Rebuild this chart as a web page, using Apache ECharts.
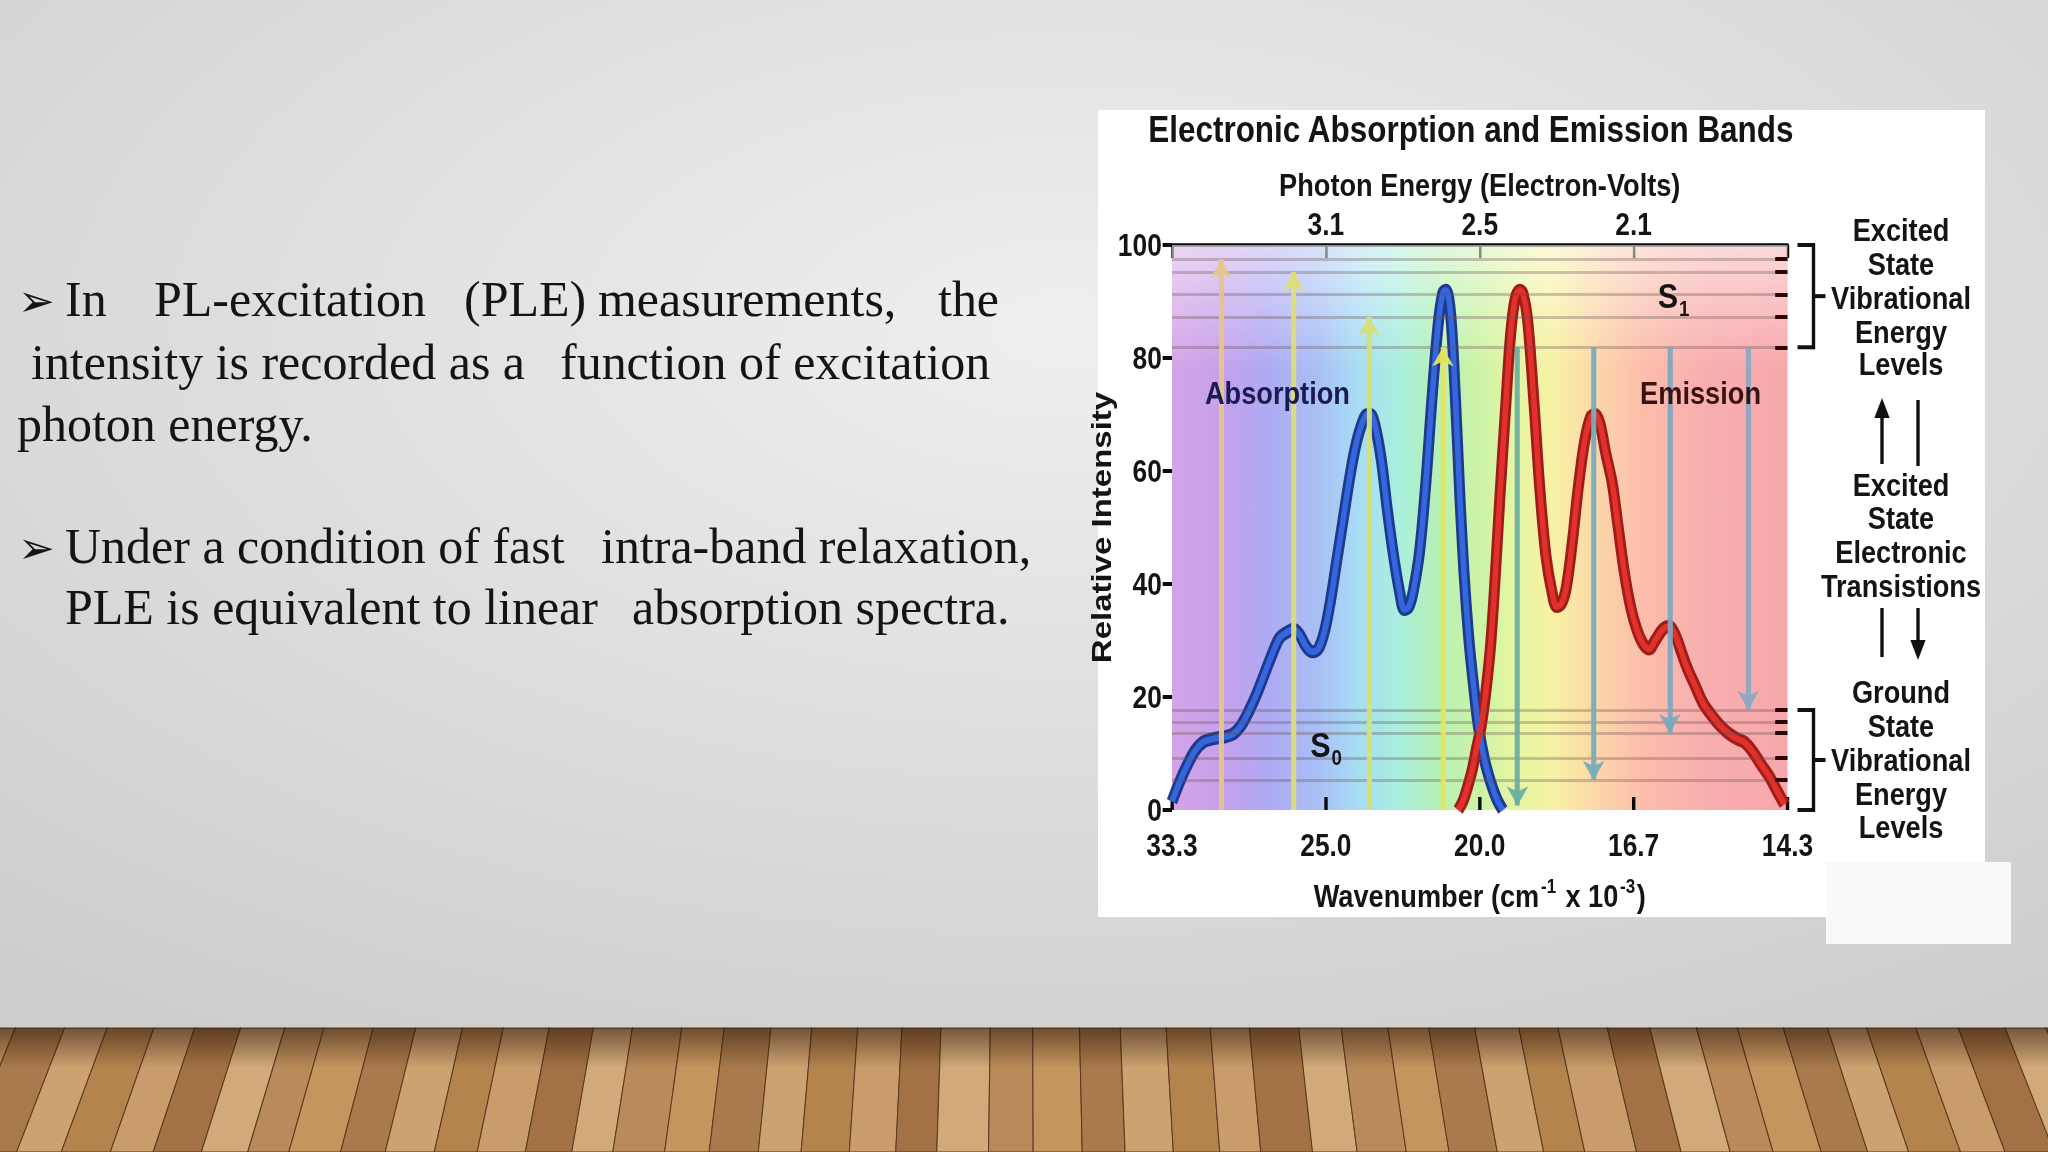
<!DOCTYPE html>
<html>
<head>
<meta charset="utf-8">
<script src="https://cdn.jsdelivr.net/npm/echarts@6/dist/echarts.min.js"></script>
<style>
html, body { margin: 0; padding: 0; width: 2048px; height: 1152px; overflow: hidden; background: #dcdcda; }
/* the pasted chart picture is squeezed sideways, so the page is drawn wider and squeezed back */
#slide { width: 2410px; height: 1152px; transform: scaleX(0.85); transform-origin: 0 0; }
</style>
</head>
<body>
<div id="slide"></div>
<script>
// x axis is linear in wavelength (nm); labels show wavenumber and photon energy
const wavenumberLabels = ['33.3', '25.0', '20.0', '16.7', '14.3'];
const energyLabels = ['', '3.1', '2.5', '2.1', ''];

const absorptionNm = [300, 305, 310, 315, 320, 325, 330, 335, 340, 345, 350, 355, 360, 365, 370, 375,
    379, 383, 387, 391, 395, 399, 403, 407, 411, 415, 419, 423, 427, 429, 432, 436, 440, 444, 448,
    451, 454, 457, 461, 465, 469, 473, 476, 478, 481, 484, 487, 490, 493, 496, 499, 503, 507, 511, 515];
const absorptionVal = [1.5, 5, 8, 10.5, 12, 12.5, 12.8, 13, 13.5, 15, 17.5, 20.5, 24, 27.5, 30.5, 31.5,
    32, 31, 29, 28, 28.5, 31.5, 37, 44, 51, 58, 64, 68, 70, 70, 68, 62, 53, 45, 38.5,
    35.5, 36, 39, 46, 58, 73, 86, 91.5, 92, 88, 74, 56, 41, 30, 22, 15, 9, 5, 2, 0];

const emissionNm = [486, 489, 492, 495, 498, 501, 504, 507, 510, 513, 517, 520, 523, 526, 528, 531, 535,
    539, 543, 547, 550, 553, 556, 560, 564, 568, 572, 575, 578, 582, 586, 590, 594, 598, 602, 606, 610,
    614, 619, 623, 627, 631, 635, 640, 645, 650, 656, 662, 668, 672, 677, 683, 688, 693, 698];
const emissionVal = [0, 1.5, 4, 7, 11, 15, 21, 29, 41, 55, 72, 84, 90.5, 92, 91.5, 87, 73,
    57, 45, 38.5, 36, 36.5, 39, 47, 57, 65, 69.5, 70, 68.5, 63, 58, 50, 42, 36, 32, 29.5, 28.5,
    30, 32, 32.5, 31, 28, 25, 22, 19, 17, 15, 13.5, 12.5, 12, 10.5, 8, 6, 3.5, 1];

const excitedLevels = [97.5, 95.2, 91.2, 87.3, 81.9];
const groundLevels = [17.7, 15.6, 13.6, 9.2, 5.3];

const absorptionArrowNm = [332, 379, 428, 476];
const absorptionArrowTip = [97.5, 95.2, 87.3, 81.9];
const emissionArrowNm = [524.5, 574, 623.5, 674.5];
const emissionArrowTip = [0.8, 5.3, 13.6, 17.7];

const K = 0.85; // horizontal squeeze applied by the css transform
const FONT = "'Liberation Sans', Arial, sans-serif";
const INK = '#141414';

function X(px) { return px / K; } // page pixel -> drawing pixel
function pairs(xs, ys) {
    return xs.map(function (x, i) { return [x, ys[i]]; });
}

let spectrum = new echarts.graphic.LinearGradient(0, 0, 1, 0, [
    { offset: 0, color: '#d5a3e6' }, { offset: 0.08, color: '#c6a1ea' },
    { offset: 0.16, color: '#aeaaf4' }, { offset: 0.24, color: '#a9c0f5' },
    { offset: 0.3, color: '#a7dcf4' }, { offset: 0.37, color: '#a9efdc' },
    { offset: 0.43, color: '#b6f0b6' }, { offset: 0.5, color: '#cdf3a6' },
    { offset: 0.56, color: '#e6f5a2' }, { offset: 0.62, color: '#f8f1a4' },
    { offset: 0.69, color: '#fcd6a9' }, { offset: 0.77, color: '#fbbcab' },
    { offset: 0.87, color: '#f8aeae' }, { offset: 1, color: '#f7a7ab' }
]);
let haze = new echarts.graphic.LinearGradient(0, 0, 0, 1, [
    { offset: 0, color: 'rgba(255,255,255,0.55)' }, { offset: 1, color: 'rgba(255,255,255,0)' }
]);

let boldText = { fontFamily: FONT, fontWeight: 'bold', fontSize: 31, color: INK };
let axisShadow = { shadowColor: 'rgba(0,0,0,0.45)', shadowBlur: 5, shadowOffsetY: 3, shadowOffsetX: 2 };

let absorptionArrows = absorptionArrowNm.map(function (x, i) {
    let colors = ['#e3c68c', '#dede78', '#d6df74', '#e4e45c'];
    return [{ coord: [x, 0], lineStyle: { color: colors[i] } }, { coord: [x, absorptionArrowTip[i]] }];
});
let emissionArrows = emissionArrowNm.map(function (x, i) {
    let colors = ['#6cb0a2', '#78adba', '#80a6bf', '#8ea8c4'];
    return [{ coord: [x, excitedLevels[4]], lineStyle: { color: colors[i] } }, { coord: [x, emissionArrowTip[i]] }];
});
let rightTicks = excitedLevels.concat(groundLevels).map(function (v) {
    return [{ coord: [692, v] }, { coord: [700, v] }];
});

let option = {
    animation: false,
    title: {
        text: 'Electronic Absorption and Emission Bands',
        left: X(1144),
        top: 106,
        textStyle: { fontFamily: FONT, fontWeight: 'bold', fontSize: 37, color: INK }
    },
    grid: {
        left: X(1172),
        right: X(261),
        top: 245,
        bottom: 342,
        show: true,
        borderWidth: 0,
        backgroundColor: spectrum
    },
    xAxis: [
        {
            type: 'value',
            position: 'bottom',
            min: 300,
            max: 700,
            interval: 100,
            name: '{a|Wavenumber (cm}{s|-1}{a| x 10}{s|-3}{a|)}',
            nameLocation: 'middle',
            nameGap: 66,
            nameTextStyle: {
                rich: {
                    a: Object.assign({}, boldText, { fontSize: 32, verticalAlign: 'bottom' }),
                    s: Object.assign({}, boldText, { fontSize: 20, padding: [0, 2, 16, 2], verticalAlign: 'bottom' })
                }
            },
            axisLine: { show: true, onZero: false, lineStyle: Object.assign({ color: '#0a0a0a', width: 6 }, axisShadow) },
            axisTick: { show: true, inside: true, length: 13, lineStyle: { color: '#0a0a0a', width: 4 } },
            axisLabel: Object.assign({
                margin: 20,
                formatter: function (v) { return wavenumberLabels[Math.round((v - 300) / 100)]; }
            }, boldText),
            splitLine: { show: false }
        },
        {
            type: 'value',
            position: 'top',
            min: 300,
            max: 700,
            interval: 100,
            name: 'Photon Energy (Electron-Volts)',
            nameLocation: 'middle',
            nameGap: 44,
            nameTextStyle: Object.assign({}, boldText, { fontSize: 32 }),
            axisLine: { show: true, onZero: false, lineStyle: { color: '#0a0a0a', width: 3.5 } },
            axisTick: { show: true, inside: true, length: 13, lineStyle: { color: '#0a0a0a', width: 3 } },
            axisLabel: Object.assign({
                margin: 5,
                formatter: function (v) { return energyLabels[Math.round((v - 300) / 100)]; }
            }, boldText),
            splitLine: { show: false }
        }
    ],
    yAxis: [
        {
            type: 'value',
            min: 0,
            max: 100,
            interval: 20,
            name: 'Relative Intensity',
            nameLocation: 'middle',
            nameGap: 37,
            nameRotate: 90,
            nameTextStyle: Object.assign({}, boldText, { fontSize: 33 }),
            axisLine: { show: true, onZero: false, lineStyle: Object.assign({ color: '#0a0a0a', width: 6 }, axisShadow) },
            axisTick: { show: true, inside: false, length: 11, lineStyle: { color: '#0a0a0a', width: 4 } },
            axisLabel: Object.assign({ margin: 12 }, boldText),
            splitLine: { show: false }
        },
        {
            type: 'value',
            position: 'right',
            min: 0,
            max: 100,
            axisLine: { show: true, onZero: false, lineStyle: Object.assign({ color: '#0a0a0a', width: 4 }, axisShadow) },
            axisTick: { show: false },
            axisLabel: { show: false },
            splitLine: { show: false }
        }
    ],
    series: [
        {
            name: 'levels',
            type: 'line',
            data: [],
            z: 1,
            silent: true,
            markArea: {
                silent: true,
                itemStyle: { color: haze },
                data: [[{ coord: [300, 100] }, { coord: [700, 78] }]]
            },
            markLine: {
                silent: true,
                symbol: 'none',
                label: { show: false },
                lineStyle: { color: 'rgba(105,80,80,0.32)', width: 3, type: 'solid' },
                data: excitedLevels.concat(groundLevels).map(function (v) { return { yAxis: v }; })
            }
        },
        {
            name: 'transitions',
            type: 'line',
            data: [],
            z: 2,
            silent: true,
            markLine: {
                silent: true,
                symbol: ['none', 'arrow'],
                symbolSize: 19,
                label: { show: false },
                lineStyle: { width: 6, type: 'solid', opacity: 0.95 },
                data: absorptionArrows.concat(emissionArrows)
            }
        },
        {
            name: 'absorption outline',
            type: 'line',
            data: pairs(absorptionNm, absorptionVal),
            smooth: 0.35,
            symbol: 'none',
            z: 3,
            silent: true,
            lineStyle: { color: '#1f3a8c', width: 13 }
        },
        {
            name: 'absorption',
            type: 'line',
            data: pairs(absorptionNm, absorptionVal),
            smooth: 0.35,
            symbol: 'none',
            z: 4,
            silent: true,
            lineStyle: { color: '#3467de', width: 6.5 }
        },
        {
            name: 'emission outline',
            type: 'line',
            data: pairs(emissionNm, emissionVal),
            smooth: 0.35,
            symbol: 'none',
            z: 3,
            silent: true,
            lineStyle: { color: '#9e1d1a', width: 13 }
        },
        {
            name: 'emission',
            type: 'line',
            data: pairs(emissionNm, emissionVal),
            smooth: 0.35,
            symbol: 'none',
            z: 4,
            silent: true,
            lineStyle: { color: '#e2302a', width: 6.5 }
        },
        {
            name: 'notes',
            type: 'line',
            data: [],
            z: 6,
            silent: true,
            markLine: {
                silent: true,
                symbol: 'none',
                label: { show: false },
                lineStyle: { color: '#2a0808', width: 4, type: 'solid' },
                data: rightTicks
            },
            markPoint: {
                silent: true,
                symbol: 'circle',
                symbolSize: 1,
                itemStyle: { color: 'rgba(0,0,0,0)' },
                label: {
                    show: true,
                    position: 'inside',
                    fontFamily: FONT,
                    fontWeight: 'bold',
                    fontSize: 32,
                    rich: {
                        s: { fontFamily: FONT, fontWeight: 'bold', fontSize: 36, color: INK, verticalAlign: 'top', lineHeight: 38 },
                        sub: { fontFamily: FONT, fontWeight: 'bold', fontSize: 22, color: INK, verticalAlign: 'top', padding: [20, 0, 0, 1] }
                    }
                },
                data: [
                    { coord: [368.5, 73.8], label: { formatter: 'Absorption', color: '#1b1b50' } },
                    { coord: [643.5, 73.8], label: { formatter: 'Emission', color: '#3a1212' } },
                    { coord: [626, 90.6], label: { formatter: '{s|S}{sub|1}' } },
                    { coord: [400.2, 11], label: { formatter: '{s|S}{sub|0}' } }
                ]
            }
        }
    ]
};

let chart = echarts.init(document.getElementById('slide'), null, { renderer: 'svg' });
chart.setOption(option);

// ---- slide decoration: background, wooden floor, white picture panel, bullet text, side notes ----
let W = 2410;
let g = [];
g.push({
    type: 'rect', z: -100, silent: true,
    shape: { x: 0, y: 0, width: W, height: 1030 },
    style: {
        fill: new echarts.graphic.RadialGradient(0.52, 0.32, 0.8, [
            { offset: 0, color: '#efefed' }, { offset: 1, color: '#cdcdcb' }
        ])
    }
});

let floorTop = 1028, cx = W / 2;
let plankColors = ['#b98b5b', '#c99d6b', '#a97a4b', '#d2a979', '#b4844f', '#c4955f', '#a27244', '#cda271'];
let plankWidths = [52, 46, 58, 50, 55, 48, 54];
let tx = -80, k = 0;
while (tx < W + 80) {
    let w = plankWidths[k % plankWidths.length];
    let a = tx, b = tx + w;
    let pa = cx + (a - cx) * 1.05, pb = cx + (b - cx) * 1.05;
    g.push({
        type: 'polygon', z: -99, silent: true,
        shape: { points: [[a, floorTop], [b, floorTop], [pb, 1152], [pa, 1152]] },
        style: { fill: plankColors[(k * 5) % plankColors.length], stroke: '#5b3a1f', lineWidth: 1.2 }
    });
    tx = b;
    k++;
}
g.push({
    type: 'rect', z: -98, silent: true,
    shape: { x: 0, y: floorTop, width: W, height: 40 },
    style: {
        fill: new echarts.graphic.LinearGradient(0, 0, 0, 1, [
            { offset: 0, color: 'rgba(40,20,5,0.55)' }, { offset: 1, color: 'rgba(40,20,5,0)' }
        ])
    }
});
g.push({
    type: 'rect', z: -90, silent: true,
    shape: { x: X(1098), y: 110, width: X(887), height: 807 },
    style: { fill: '#ffffff' }
});
g.push({
    type: 'rect', z: -89, silent: true,
    shape: { x: X(1826), y: 862, width: X(185), height: 82 },
    style: { fill: '#f9f9f9' }
});

// text placed at page pixel x; serif slide text is un-squeezed with scaleX
function txt(px, y, s, font, align, unsqueeze, color) {
    g.push({
        type: 'text', z: 50, silent: true,
        x: X(px), y: y, scaleX: unsqueeze ? 1 / K : 1,
        style: { x: 0, y: 0, text: s, font: font, fill: color || INK, align: align || 'left', verticalAlign: 'middle' }
    });
}

let serif = "50px 'Liberation Serif', 'Times New Roman', serif";
let bullet = "bold 44px 'DejaVu Sans', sans-serif";
txt(18, 300, '\u27A2', bullet, 'left', true);
txt(65, 299, 'In', serif, 'left', true);
txt(154, 299, 'PL-excitation', serif, 'left', true);
txt(464, 299, '(PLE)', serif, 'left', true);
txt(598, 299, 'measurements,', serif, 'left', true);
txt(938, 299, 'the', serif, 'left', true);
txt(31, 362, 'intensity is recorded as a', serif, 'left', true);
txt(560, 362, 'function of excitation', serif, 'left', true);
txt(17, 424, 'photon energy.', serif, 'left', true);
txt(18, 547, '\u27A2', bullet, 'left', true);
txt(65, 546, 'Under a condition of fast', serif, 'left', true);
txt(601, 546, 'intra-band relaxation,', serif, 'left', true);
txt(65, 607, 'PLE is equivalent to linear', serif, 'left', true);
txt(632, 607, 'absorption spectra.', serif, 'left', true);

let side = "bold 32px " + FONT;
[['Excited', 230], ['State', 264], ['Vibrational', 298], ['Energy', 332], ['Levels', 364],
 ['Excited', 485], ['State', 518], ['Electronic', 552], ['Transistions', 586],
 ['Ground', 692], ['State', 726], ['Vibrational', 760], ['Energy', 794], ['Levels', 827]
].forEach(function (t) { txt(1901, t[1], t[0], side, 'center', false); });

function seg(x1, y1, x2, y2, w) {
    g.push({
        type: 'line', z: 50, silent: true,
        shape: { x1: x1, y1: y1, x2: x2, y2: y2 },
        style: { stroke: '#111', lineWidth: w || 4 }
    });
}
function head(x, y, dir) {
    g.push({
        type: 'polygon', z: 50, silent: true,
        shape: { points: [[x, y], [x - 9, y - dir * 20], [x + 9, y - dir * 20]] },
        style: { fill: '#111' }
    });
}
// up arrow and bar between the top and middle notes, bar and down arrow below
seg(X(1882), 414, X(1882), 464); head(X(1882), 398, -1);
seg(X(1918), 400, X(1918), 466);
seg(X(1882), 608, X(1882), 657);
seg(X(1918), 608, X(1918), 644); head(X(1918), 660, 1);

// brackets grouping the vibrational levels, placed from the level values
function bracket(topVal, bottomVal) {
    let p1 = chart.convertToPixel({ xAxisIndex: 0, yAxisIndex: 0 }, [700, topVal]);
    let p2 = chart.convertToPixel({ xAxisIndex: 0, yAxisIndex: 0 }, [700, bottomVal]);
    let x0 = p1[0] + X(10), x1 = p1[0] + X(26);
    seg(x0, p1[1], x1, p1[1]);
    seg(x1, p1[1] - 2, x1, p2[1] + 2);
    seg(x0, p2[1], x1, p2[1]);
    seg(x1, (p1[1] + p2[1]) / 2, x1 + X(12), (p1[1] + p2[1]) / 2);
}
bracket(100, excitedLevels[excitedLevels.length - 1]);
bracket(groundLevels[0], 0);

chart.setOption({ graphic: g });
</script>
</body>
</html>
